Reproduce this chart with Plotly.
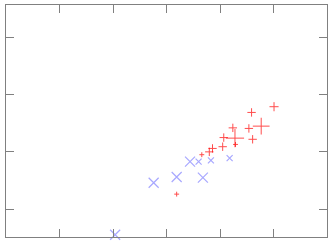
import plotly.graph_objects as go

# Red series (plus markers)
red_x = [5.01, 4.59, 4.24, 4.54, 4.77, 4.07, 4.28, 4.61, 4.29, 4.05, 3.86, 3.80, 3.66, 3.19]
red_y = [2.79, 2.69, 2.42, 2.41, 2.45, 2.25, 2.24, 2.22, 2.13, 2.09, 2.06, 2.00, 1.95, 1.26]
red_w = [6.5, 6.0, 6.0, 6.0, 12.0, 6.0, 13.0, 6.0, 3.5, 6.0, 6.0, 6.0, 3.5, 3.5]

# Blue series (x markers)
blue_x = [2.04, 2.76, 3.19, 3.44, 3.60, 3.83, 3.68, 4.18]
blue_y = [0.55, 1.46, 1.56, 1.83, 1.83, 1.85, 1.55, 1.89]
blue_w = [10, 10, 10, 10, 6, 6, 10, 6]

fig = go.Figure()
fig.add_trace(go.Scatter(
    x=blue_x, y=blue_y, mode="markers", cliponaxis=False,
    marker=dict(symbol="x-thin", size=blue_w,
                line=dict(color="rgba(90,90,255,0.75)", width=1.2)),
))
fig.add_trace(go.Scatter(
    x=red_x, y=red_y, mode="markers", cliponaxis=False,
    marker=dict(symbol="cross-thin", size=red_w,
                line=dict(color="rgb(255,0,0)", width=1)),
))

axis_common = dict(showline=True, linecolor="#808080", linewidth=1, mirror="ticks",
                   ticks="inside", ticklen=8, tickcolor="#808080", tickwidth=1,
                   showticklabels=False, showgrid=False, zeroline=False)
fig.update_layout(
    width=334, height=243,
    margin=dict(l=6, r=7, t=5, b=6),
    paper_bgcolor="white", plot_bgcolor="white",
    showlegend=False,
    xaxis=dict(range=[0, 6], tickvals=[1, 2, 3, 4, 5], **axis_common),
    yaxis=dict(range=[0.51, 4.57], tickvals=[1, 2, 3, 4], **axis_common),
)
fig.write_html("out.html")
